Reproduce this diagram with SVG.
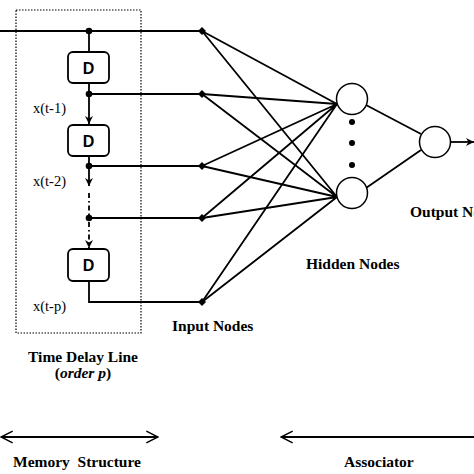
<svg xmlns="http://www.w3.org/2000/svg" width="474" height="474" viewBox="0 0 474 474">
<style>
.ln{stroke:#000;stroke-width:1.8;fill:none}
.dl{stroke:#000;stroke-width:1.8;fill:none;stroke-dasharray:5,3,1.5,3}
.box{fill:#fff;stroke:#000;stroke-width:1.8}
.nd{fill:#fff;stroke:#000;stroke-width:1.5}
.d{font-family:"Liberation Sans",Arial,sans-serif;font-weight:bold;font-size:16px;text-anchor:middle}
.lb{font-family:"Liberation Serif","Times New Roman",serif;font-size:14.5px}
.bl{font-family:"Liberation Serif","Times New Roman",serif;font-size:15.5px;font-weight:bold}
</style>
<defs>
<marker id="ah" viewBox="0 0 10 10" refX="10" refY="5" markerWidth="8" markerHeight="8" markerUnits="userSpaceOnUse" orient="auto">
<path d="M0,0 L10,5 L0,10 L3,5 Z" fill="#000"/>
</marker>
<marker id="oa" viewBox="0 0 12 12" refX="11" refY="6" markerWidth="14" markerHeight="14" markerUnits="userSpaceOnUse" orient="auto-start-reverse">
<path d="M1,1 L11,6 L1,11" fill="none" stroke="#000" stroke-width="1.2"/>
</marker>
</defs>
<rect x="16" y="10" width="125" height="323" fill="none" stroke="#000" stroke-width="1.2" stroke-dasharray="1.5,1.5"/>
<g id="connectors">
<path class="ln" d="M0,31 H202"/>
<path class="ln" d="M89,31 V52"/>
<path class="ln" d="M89,83 V94 H202"/>
<path class="ln" d="M89,94 V124" marker-end="url(#ah)"/>
<path class="ln" d="M89,156 V166 H202"/>
<path class="ln" d="M89,166 V186" marker-end="url(#ah)"/>
<path class="dl" d="M89,193 V218"/>
<path class="ln" d="M89,218 H202"/>
<path class="dl" d="M89,222 V248" marker-end="url(#ah)"/>
<path class="ln" d="M89,281 V302 H202"/>
<g class="ln">
<path d="M202,31 L337,104 M202,94 L337,104 M202,166 L337,104 M202,218 L337,104 M202,302 L337,104"/>
<path d="M202,31 L337,197 M202,94 L337,197 M202,166 L337,197 M202,218 L337,197 M202,302 L337,197"/>
<path d="M366,105 L421,134 M366,188 L421,150"/>
</g>
<path class="ln" d="M451,142 H474" marker-end="url(#ah)"/>
<path class="ln" d="M1,437 H158" marker-start="url(#oa)" marker-end="url(#oa)"/>
<path class="ln" d="M281,437 H474" marker-start="url(#oa)"/>
</g>
<g id="junctions">
<circle cx="89" cy="31" r="3.3"/>
<circle cx="89" cy="94" r="3.3"/>
<circle cx="89" cy="166" r="3.3"/>
<circle cx="89" cy="218" r="3.3"/>
</g>
<g id="delay1"><rect class="box" x="68" y="52" width="41" height="31" rx="5"/><text class="d" x="88.5" y="73.5">D</text></g>
<g id="delay2"><rect class="box" x="68" y="125" width="41" height="31" rx="5"/><text class="d" x="88.5" y="146.5">D</text></g>
<g id="delay3"><rect class="box" x="68" y="249" width="41" height="32" rx="5"/><text class="d" x="88.5" y="271">D</text></g>
<g id="tap-labels">
<text class="lb" x="33" y="113">x(t-1)</text>
<text class="lb" x="33" y="186">x(t-2)</text>
<text class="lb" x="33" y="311">x(t-p)</text>
</g>
<g id="input-nodes">
<path d="M198,31 L202,27 L206,31 L202,35 Z"/>
<path d="M198,94 L202,90 L206,94 L202,98 Z"/>
<path d="M198,166 L202,162 L206,166 L202,170 Z"/>
<path d="M198,218 L202,214 L206,218 L202,222 Z"/>
<path d="M198,302 L202,298 L206,302 L202,306 Z"/>
</g>
<g id="hidden-nodes">
<circle class="nd" cx="352" cy="99" r="15.5"/>
<circle class="nd" cx="352" cy="193" r="15.5"/>
<circle cx="352" cy="122" r="3"/>
<circle cx="352" cy="143" r="3"/>
<circle cx="352" cy="165" r="3"/>
</g>
<g id="output-node"><circle class="nd" cx="435" cy="142" r="15.5"/></g>
<g id="labels">
<text class="bl" x="172" y="331">Input Nodes</text>
<text class="bl" x="306" y="269">Hidden Nodes</text>
<text class="bl" x="410" y="217">Output Nodes</text>
<text class="bl" x="83" y="362" text-anchor="middle">Time Delay Line</text>
<text class="bl" x="83" y="378" text-anchor="middle">(<tspan font-style="italic">order p</tspan>)</text>
<text class="bl" x="13" y="467" xml:space="preserve">Memory  Structure</text>
<text class="bl" x="344" y="467">Associator</text>
</g>
</svg>
